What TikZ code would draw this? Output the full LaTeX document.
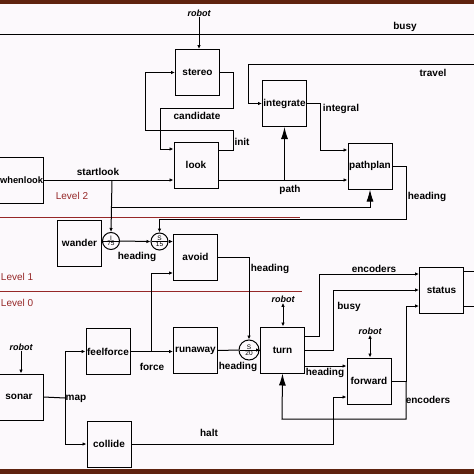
\documentclass[tikz,border=0pt]{standalone}
\usepackage{fontspec}
\setmainfont{Liberation Sans}
\usetikzlibrary{arrows.meta,shapes.multipart}
\definecolor{brun}{RGB}{95,35,15}
\definecolor{rouge}{RGB}{150,40,40}
\definecolor{fond}{RGB}{252,249,252}

\begin{document}
\begin{tikzpicture}[x=1pt, y=-1pt, line width=1pt,
  bloc/.style={draw, minimum width=44pt, minimum height=46pt, inner sep=0pt, font=\fontsize{10}{11}\selectfont\bfseries},
  lab/.style={font=\fontsize{10}{11}\selectfont\bfseries, inner sep=0pt},
  lev/.style={font=\fontsize{10}{11}\selectfont, text=rouge, inner sep=0pt},
  rob/.style={font=\fontsize{9}{10}\selectfont\bfseries\itshape, inner sep=0pt},
  supp/.style={draw, circle split, minimum size=17pt, inner sep=0pt, font=\fontsize{6.5}{7}\selectfont},
  fl/.style={-{Latex[length=4pt,width=3.5pt]}},
  gfl/.style={-{Latex[length=12pt,width=7pt]}},
  dfl/.style={{Latex[length=4pt,width=3.5pt]}-{Latex[length=4pt,width=3.5pt]}},
  niveau/.style={rouge, line width=1pt}]

		%fond et bandes
		\fill[fond] (0,0) rectangle (474,474);
		\fill[brun] (0,0) rectangle (474,4);
		\fill[brun] (0,469) rectangle (474,474);
		\useasboundingbox (0,0) rectangle (474,474);

		%niveaux
		\draw[niveau] (0,217) -- (300,217);
		\draw[niveau] (0,291) -- (302,291);
		\node[lev] at (72,196) {Level 2};
		\node[lev, anchor=west] at (0.5,277) {Level 1};
		\node[lev, anchor=west] at (0.5,303) {Level 0};

		%modules
		\node[bloc] (stereo) at (197.5,72.5) {stereo};
		\node[bloc] (look) at (196,165) {look};
		\node[bloc] (integrate) at (284.5,103.5) {integrate};
		\node[bloc] (pathplan) at (370,166) {pathplan};
		\node[bloc, minimum width=46pt, font=\fontsize{9.3}{11}\selectfont\bfseries] (whenlook) at (20,180) {\hspace*{3.2pt}whenlook};
		\node[bloc] (wander) at (79.5,243) {wander};
		\node[bloc] (avoid) at (195.5,257) {avoid};
		\node[bloc] (feelforce) at (108,351.5) {feelforce};
		\node[bloc] (runaway) at (195.5,350.5) {runaway};
		\node[bloc] (collide) at (109,444) {collide};
		\node[bloc, minimum width=48pt] (sonar) at (19,397) {sonar};
		\node[bloc] (turn) at (282.5,350) {turn};
		\node[bloc] (forward) at (369,381) {forward};
		\node[bloc] (status) at (441.5,290) {status};

		%suppresseurs et inhibiteur
		\node[supp] (s1) at (111,241) {I \nodepart{lower} 75};
		\node[supp] (s2) at (159.5,241.5) {S \nodepart{lower} 15};
		\node[supp, minimum size=20pt] (s3) at (249,350) {S \nodepart{lower} 20};

		\node[rob] (rob1) at (199,13) {robot};
		\node[rob] (rob2) at (21,347) {robot};
		\node[rob] (rob3) at (283,299) {robot};
		\node[rob] (rob4) at (370,331) {robot};

		\coordinate (busyg) at (0,34);
		\coordinate (busyd) at (474,34);
		\coordinate (trav) at (474,64);
		\coordinate (sl) at (112,180);
		\coordinate (mp) at (65,398);

		%niveau 2
		\draw (busyg) -- (busyd);
		\draw[fl] (rob1.south) -- (rob1.south |- stereo.north);
		\draw[fl] (stereo.east) -| (233,108) -| (160,149) -- (look.west |- 0,149);
		\draw[fl] (look.east |- 0,150) -| (233,130) -| (145,72.5) -- (stereo.west);
		\draw[fl] (whenlook.east) -- (look.west |- whenlook.east);
		\draw[fl] (sl) -- (s1.north);
		\draw[gfl] (sl |- 0,207) -| (pathplan.south);
		\draw[fl] (look.east |- 0,180) -- (pathplan.west |- 0,180);
		\draw[gfl] (integrate.south |- 0,180) -- (integrate.south);
		\draw[fl] (integrate.east) -| (320,150) -- (pathplan.west |- 0,150);
		\draw[fl] (trav) -| (248,103.5) -- (integrate.west);
		\draw[fl] (pathplan.east) -| (406,219) -| (s2.north);

		%niveau 1
		\draw (wander.east) -- (s1.west);
		\draw[fl] (s1.east) -- (s2.west);
		\draw[fl] (s2.east) -- (avoid.west |- s2.east);
		\draw[fl] (avoid.east) -| (s3.north);
		\draw[fl] (151,351.5) |- (avoid.west |- 0,273);

		%niveau 0
		\draw (sonar.east) -- (mp);
		\draw[fl] (rob2.south) -- (rob2.south |- sonar.north);
		\draw[fl] (mp) |- (feelforce.west);
		\draw[fl] (mp) |- (collide.west);
		\draw[fl] (feelforce.east) -- (runaway.west |- feelforce.east);
		\draw (runaway.east) -- (s3.west);
		\draw[fl] (s3.east) -- (turn.west);
		\draw[dfl] (rob3.south) -- (rob3.south |- turn.north);
		\draw[dfl] (rob4.south) -- (rob4.south |- forward.north);
		\draw[fl] (turn.east |- 0,336) -| (319,274) -- (status.west |- 0,274);
		\draw[fl] (turn.east) -| (333,290) -- (status.west);
		\draw[fl] (turn.east |- 0,366) -- (forward.west |- 0,366);
		\draw[fl] (collide.east) -| (333,397) -- (forward.west |- 0,397);
		\draw[fl] (forward.east) -| (406,306) -- (status.west |- 0,306);
		\draw[gfl] (406,381) |- (282,419) -- (turn.south);
		\draw (status.east |- 0,271) -- (474,271);
		\draw (status.east |- 0,306) -- (474,306);

		%etiquettes
		\node[lab] at (405,27) {busy};
		\node[lab] at (433,73) {travel};
		\node[lab] at (197,116) {candidate};
		\node[lab] at (242,142) {init};
		\node[lab] at (341,109) {integral};
		\node[lab] at (98,172) {startlook};
		\node[lab] at (290,190) {path};
		\node[lab] at (427,197) {heading};
		\node[lab] at (137,257) {heading};
		\node[lab] at (270,269) {heading};
		\node[lab] at (238,367) {heading};
		\node[lab] at (152,367) {force};
		\node[lab] at (76,399) {map};
		\node[lab] at (209,433) {halt};
		\node[lab] at (374,269) {encoders};
		\node[lab] at (349,307) {busy};
		\node[lab] at (325,373) {heading};
		\node[lab] at (428,400) {encoders};

\end{tikzpicture}
\end{document}
